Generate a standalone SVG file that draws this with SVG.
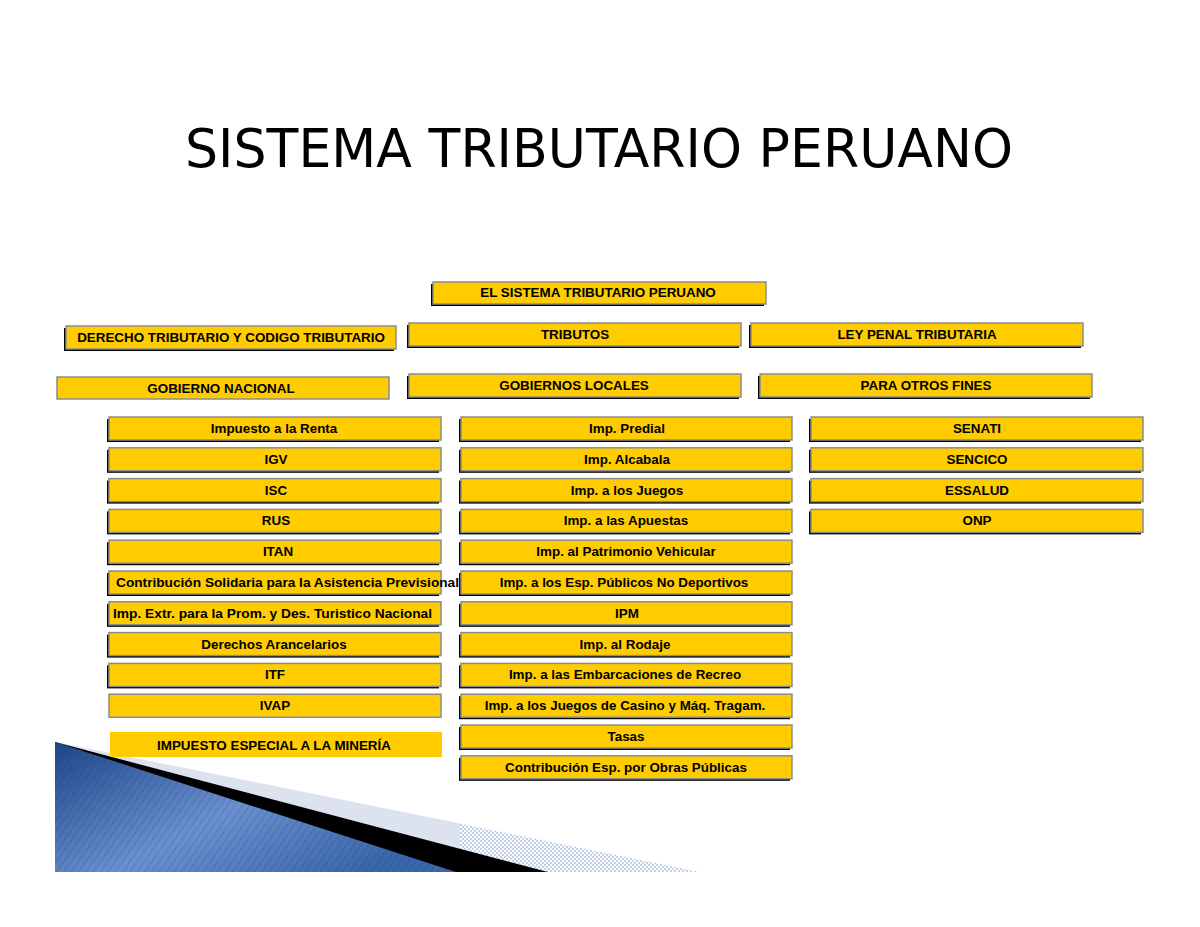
<svg xmlns="http://www.w3.org/2000/svg" width="1200" height="927" viewBox="0 0 1200 927">
<style>
.sh{fill:#000}
.bx{fill:#FFCC00;stroke:#8c8c8c;stroke-width:1.5}
.bf{fill:#FFCC00}
.t{font-family:"Liberation Sans",Arial,sans-serif;font-weight:bold;font-size:13.4px;fill:#000;text-anchor:middle}
.title{font-family:"DejaVu Sans",Verdana,sans-serif;font-size:53px;fill:#000;text-anchor:middle}
</style>
<defs>
<linearGradient id="bg" x1="0" y1="0" x2="1" y2="0.6">
<stop offset="0" stop-color="#1d4688"/>
<stop offset="0.55" stop-color="#6a90cf"/>
<stop offset="1" stop-color="#3a66ab"/>
</linearGradient>
<pattern id="st" width="6" height="6" patternUnits="userSpaceOnUse" patternTransform="rotate(35)">
<rect width="6" height="6" fill="none"/>
<line x1="0" y1="0" x2="0" y2="6" stroke="#0d2a5c" stroke-opacity="0.25" stroke-width="1.5"/>
</pattern>
<pattern id="dots" width="4" height="4" patternUnits="userSpaceOnUse">
<rect width="4" height="4" fill="#fff"/>
<rect width="2" height="2" fill="#c3d0e8"/>
<rect x="2" y="2" width="2" height="2" fill="#c3d0e8"/>
</pattern>
</defs>
<rect width="1200" height="927" fill="#fff"/>
<text class="title" x="599" y="167" textLength="828" lengthAdjust="spacingAndGlyphs">SISTEMA TRIBUTARIO PERUANO</text>

<g id="decor">
<polygon points="55,742 700,872 55,872" fill="url(#dots)"/>
<polygon points="55,742 460,823.6 460,872 55,872" fill="#dce3ef"/>
<polygon points="55,742 548,872 55,872" fill="#000"/>
<polygon points="55,742 456,872 55,872" fill="url(#bg)"/>
<polygon points="55,742 456,872 55,872" fill="url(#st)"/>
</g>

<g id="connectors"/>

<g id="n-root"><rect class="sh" x="431" y="284" width="333" height="22"/><rect class="bx" x="433" y="282" width="333" height="22"/><text class="t" x="598" y="297">EL SISTEMA TRIBUTARIO PERUANO</text></g>
<g id="n-derecho"><rect class="sh" x="64" y="328" width="330" height="23"/><rect class="bx" x="66" y="326" width="330" height="23"/><text class="t" x="231" y="342">DERECHO TRIBUTARIO Y CODIGO TRIBUTARIO</text></g>
<g id="n-tributos"><rect class="sh" x="407" y="325" width="332" height="23"/><rect class="bx" x="409" y="323" width="332" height="23"/><text class="t" x="575" y="339">TRIBUTOS</text></g>
<g id="n-ley"><rect class="sh" x="749" y="325" width="332" height="23"/><rect class="bx" x="751" y="323" width="332" height="23"/><text class="t" x="917" y="339">LEY PENAL TRIBUTARIA</text></g>
<g id="n-gn"><rect class="bx" x="57" y="377" width="332" height="22"/><text class="t" x="221" y="393">GOBIERNO NACIONAL</text></g>
<g id="n-gl"><rect class="sh" x="407" y="376" width="332" height="23"/><rect class="bx" x="409" y="374" width="332" height="23"/><text class="t" x="574" y="390">GOBIERNOS LOCALES</text></g>
<g id="n-pof"><rect class="sh" x="758" y="376" width="332" height="23"/><rect class="bx" x="760" y="374" width="332" height="23"/><text class="t" x="926" y="390">PARA OTROS FINES</text></g>

<g id="n-renta"><rect class="sh" x="107" y="419" width="332" height="23"/><rect class="bx" x="109" y="417" width="332" height="23"/><text class="t" x="274" y="433">Impuesto a la Renta</text></g>
<g id="n-igv"><rect class="sh" x="107" y="449.8" width="332" height="23"/><rect class="bx" x="109" y="447.8" width="332" height="23"/><text class="t" x="276" y="463.8">IGV</text></g>
<g id="n-isc"><rect class="sh" x="107" y="480.6" width="332" height="23"/><rect class="bx" x="109" y="478.6" width="332" height="23"/><text class="t" x="276" y="494.6">ISC</text></g>
<g id="n-rus"><rect class="sh" x="107" y="511.4" width="332" height="23"/><rect class="bx" x="109" y="509.4" width="332" height="23"/><text class="t" x="276" y="525.4">RUS</text></g>
<g id="n-itan"><rect class="sh" x="107" y="542.2" width="332" height="23"/><rect class="bx" x="109" y="540.2" width="332" height="23"/><text class="t" x="278" y="556.2">ITAN</text></g>
<g id="n-csap"><rect class="sh" x="107" y="573" width="332" height="23"/><rect class="bx" x="109" y="571" width="332" height="23"/><text class="t" x="116" y="587" style="text-anchor:start" textLength="343" lengthAdjust="spacingAndGlyphs">Contribución Solidaria para la Asistencia Previsional</text></g>
<g id="n-iept"><rect class="sh" x="107" y="603.8" width="332" height="23"/><rect class="bx" x="109" y="601.8" width="332" height="23"/><text class="t" x="113" y="617.8" style="text-anchor:start" textLength="319" lengthAdjust="spacingAndGlyphs">Imp. Extr. para la Prom. y Des. Turistico Nacional</text></g>
<g id="n-da"><rect class="sh" x="107" y="634.6" width="332" height="23"/><rect class="bx" x="109" y="632.6" width="332" height="23"/><text class="t" x="274" y="648.6">Derechos Arancelarios</text></g>
<g id="n-itf"><rect class="sh" x="107" y="665.4" width="332" height="23"/><rect class="bx" x="109" y="663.4" width="332" height="23"/><text class="t" x="275" y="679.4">ITF</text></g>
<g id="n-ivap"><rect class="bx" x="109" y="694.2" width="332" height="23"/><text class="t" x="275" y="710.2">IVAP</text></g>
<g id="n-iem"><rect class="bf" x="110" y="732" width="332" height="25"/><text class="t" x="274" y="749.5">IMPUESTO ESPECIAL A LA MINERÍA</text></g>

<g id="n-predial"><rect class="sh" x="459" y="419" width="331" height="23"/><rect class="bx" x="461" y="417" width="331" height="23"/><text class="t" x="627" y="433">Imp. Predial</text></g>
<g id="n-alcabala"><rect class="sh" x="459" y="449.8" width="331" height="23"/><rect class="bx" x="461" y="447.8" width="331" height="23"/><text class="t" x="627" y="463.8">Imp. Alcabala</text></g>
<g id="n-juegos"><rect class="sh" x="459" y="480.6" width="331" height="23"/><rect class="bx" x="461" y="478.6" width="331" height="23"/><text class="t" x="627" y="494.6">Imp. a los Juegos</text></g>
<g id="n-apuestas"><rect class="sh" x="459" y="511.4" width="331" height="23"/><rect class="bx" x="461" y="509.4" width="331" height="23"/><text class="t" x="626" y="525.4">Imp. a las Apuestas</text></g>
<g id="n-vehicular"><rect class="sh" x="459" y="542.2" width="331" height="23"/><rect class="bx" x="461" y="540.2" width="331" height="23"/><text class="t" x="626" y="556.2">Imp. al Patrimonio Vehicular</text></g>
<g id="n-esp"><rect class="sh" x="459" y="573" width="331" height="23"/><rect class="bx" x="461" y="571" width="331" height="23"/><text class="t" x="624" y="587">Imp. a los Esp. Públicos No Deportivos</text></g>
<g id="n-ipm"><rect class="sh" x="459" y="603.8" width="331" height="23"/><rect class="bx" x="461" y="601.8" width="331" height="23"/><text class="t" x="627" y="617.8">IPM</text></g>
<g id="n-rodaje"><rect class="sh" x="459" y="634.6" width="331" height="23"/><rect class="bx" x="461" y="632.6" width="331" height="23"/><text class="t" x="625" y="648.6">Imp. al Rodaje</text></g>
<g id="n-embarc"><rect class="sh" x="459" y="665.4" width="331" height="23"/><rect class="bx" x="461" y="663.4" width="331" height="23"/><text class="t" x="625" y="679.4">Imp. a las Embarcaciones de Recreo</text></g>
<g id="n-casino"><rect class="sh" x="459" y="696.2" width="331" height="23"/><rect class="bx" x="461" y="694.2" width="331" height="23"/><text class="t" x="625" y="710.2">Imp. a los Juegos de Casino y Máq. Tragam.</text></g>
<g id="n-tasas"><rect class="sh" x="459" y="727" width="331" height="23"/><rect class="bx" x="461" y="725" width="331" height="23"/><text class="t" x="626" y="741">Tasas</text></g>
<g id="n-obras"><rect class="sh" x="459" y="757.8" width="331" height="23"/><rect class="bx" x="461" y="755.8" width="331" height="23"/><text class="t" x="626" y="771.8">Contribución Esp. por Obras Públicas</text></g>

<g id="n-senati"><rect class="sh" x="809" y="419" width="332" height="23"/><rect class="bx" x="811" y="417" width="332" height="23"/><text class="t" x="977" y="433">SENATI</text></g>
<g id="n-sencico"><rect class="sh" x="809" y="449.8" width="332" height="23"/><rect class="bx" x="811" y="447.8" width="332" height="23"/><text class="t" x="977" y="463.8">SENCICO</text></g>
<g id="n-essalud"><rect class="sh" x="809" y="480.6" width="332" height="23"/><rect class="bx" x="811" y="478.6" width="332" height="23"/><text class="t" x="977" y="494.6">ESSALUD</text></g>
<g id="n-onp"><rect class="sh" x="809" y="511.4" width="332" height="23"/><rect class="bx" x="811" y="509.4" width="332" height="23"/><text class="t" x="977" y="525.4">ONP</text></g>
</svg>
